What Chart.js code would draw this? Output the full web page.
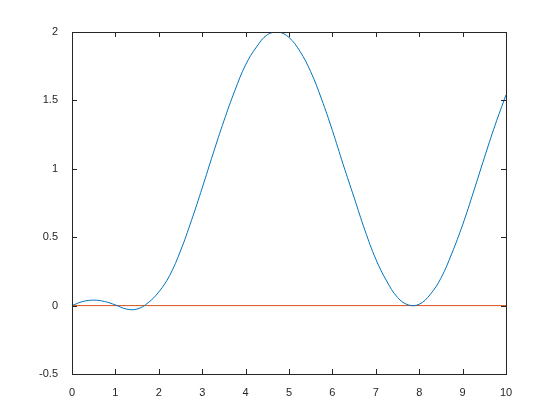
<!DOCTYPE html>
<html>
<head>
<script src="https://cdn.jsdelivr.net/npm/chart.js@4"></script>
<style>body{margin:0;background:#fff}#wrap{width:560px;height:420px}</style>
</head>
<body>
<div id="wrap"><canvas id="myChart" width="560" height="420"></canvas></div>
<script>
// values
var xs = [0,0.25,0.5,0.75,1,1.25,1.5,1.75,2,2.25,2.5,2.75,3,3.25,3.5,3.75,4,4.25,4.5,4.75,5,5.25,5.5,5.75,6,6.25,6.5,6.75,7,7.25,7.5,7.75,8,8.25,8.5,8.75,9,9.25,9.5,9.75,10];
var ys = [0,0.03,0.04,0.03,0.005,-0.025,-0.025,0.02,0.1,0.22,0.4,0.62,0.86,1.11,1.35,1.57,1.76,1.89,1.98,2.0,1.96,1.86,1.71,1.51,1.28,1.03,0.79,0.55,0.34,0.18,0.06,0.005,0.01,0.08,0.2,0.38,0.59,0.83,1.08,1.32,1.54];
var zeroX = [0, 10];
var zeroY = [0, 0];
var xTicks = [0,1,2,3,4,5,6,7,8,9,10];
var yTicks = [-0.5,0,0.5,1,1.5,2];

const toPts = (a, b) => a.map((v, i) => ({x: v, y: b[i]}));

// box around the plot with ticks pointing inward
const boxPlugin = {
    id: "box",
    afterDraw: (c) => {
        var ctx = c.ctx, a = c.chartArea, sx = c.scales.x, sy = c.scales.y;
        ctx.save();
        ctx.strokeStyle = "#262626";
        ctx.lineWidth = 1;
        ctx.strokeRect(a.left + 0.5, a.top + 0.5, a.right - a.left, a.bottom - a.top);
        ctx.beginPath();
        xTicks.forEach(t => {
            var p = Math.round(sx.getPixelForValue(t)) + 0.5;
            ctx.moveTo(p, a.bottom); ctx.lineTo(p, a.bottom - 5);
            ctx.moveTo(p, a.top); ctx.lineTo(p, a.top + 5);
        });
        yTicks.forEach(t => {
            var p = Math.round(sy.getPixelForValue(t)) + 0.5;
            ctx.moveTo(a.left, p); ctx.lineTo(a.left + 5, p);
            ctx.moveTo(a.right, p); ctx.lineTo(a.right - 5, p);
        });
        ctx.stroke();
        ctx.restore();
    }
};

var ctx = document.getElementById("myChart").getContext("2d");
var chart = new Chart(ctx, {
    type: "scatter",
    data: {
        datasets: [
            {data: toPts(xs, ys), showLine: true, borderColor: "#0072BD", borderWidth: 1, pointRadius: 0, tension: 0.4},
            {data: toPts(zeroX, zeroY), showLine: true, borderColor: "#D95319", borderWidth: 1, pointRadius: 0}
        ]
    },
    options: {
        responsive: false,
        animation: false,
        layout: {padding: {top: 32, right: 54, left: 0, bottom: 0}},
        plugins: {legend: {display: false}, tooltip: {enabled: false}},
        scales: {
            x: {
                type: "linear", min: 0, max: 10,
                afterBuildTicks: s => { s.ticks = xTicks.map(v => ({value: v})); },
                afterFit: s => { s.height = 46; },
                grid: {display: false}, border: {display: false},
                ticks: {color: "#262626", font: {family: "Liberation Sans", size: 11}, padding: 4, callback: v => String(v)}
            },
            y: {
                min: -0.5, max: 2,
                afterBuildTicks: s => { s.ticks = yTicks.map(v => ({value: v})); },
                afterFit: s => { s.width = 72; },
                grid: {display: false}, border: {display: false},
                ticks: {color: "#262626", font: {family: "Liberation Sans", size: 11}, padding: 6, callback: v => String(v)}
            }
        }
    },
    plugins: [boxPlugin]
});
</script>
</body>
</html>
